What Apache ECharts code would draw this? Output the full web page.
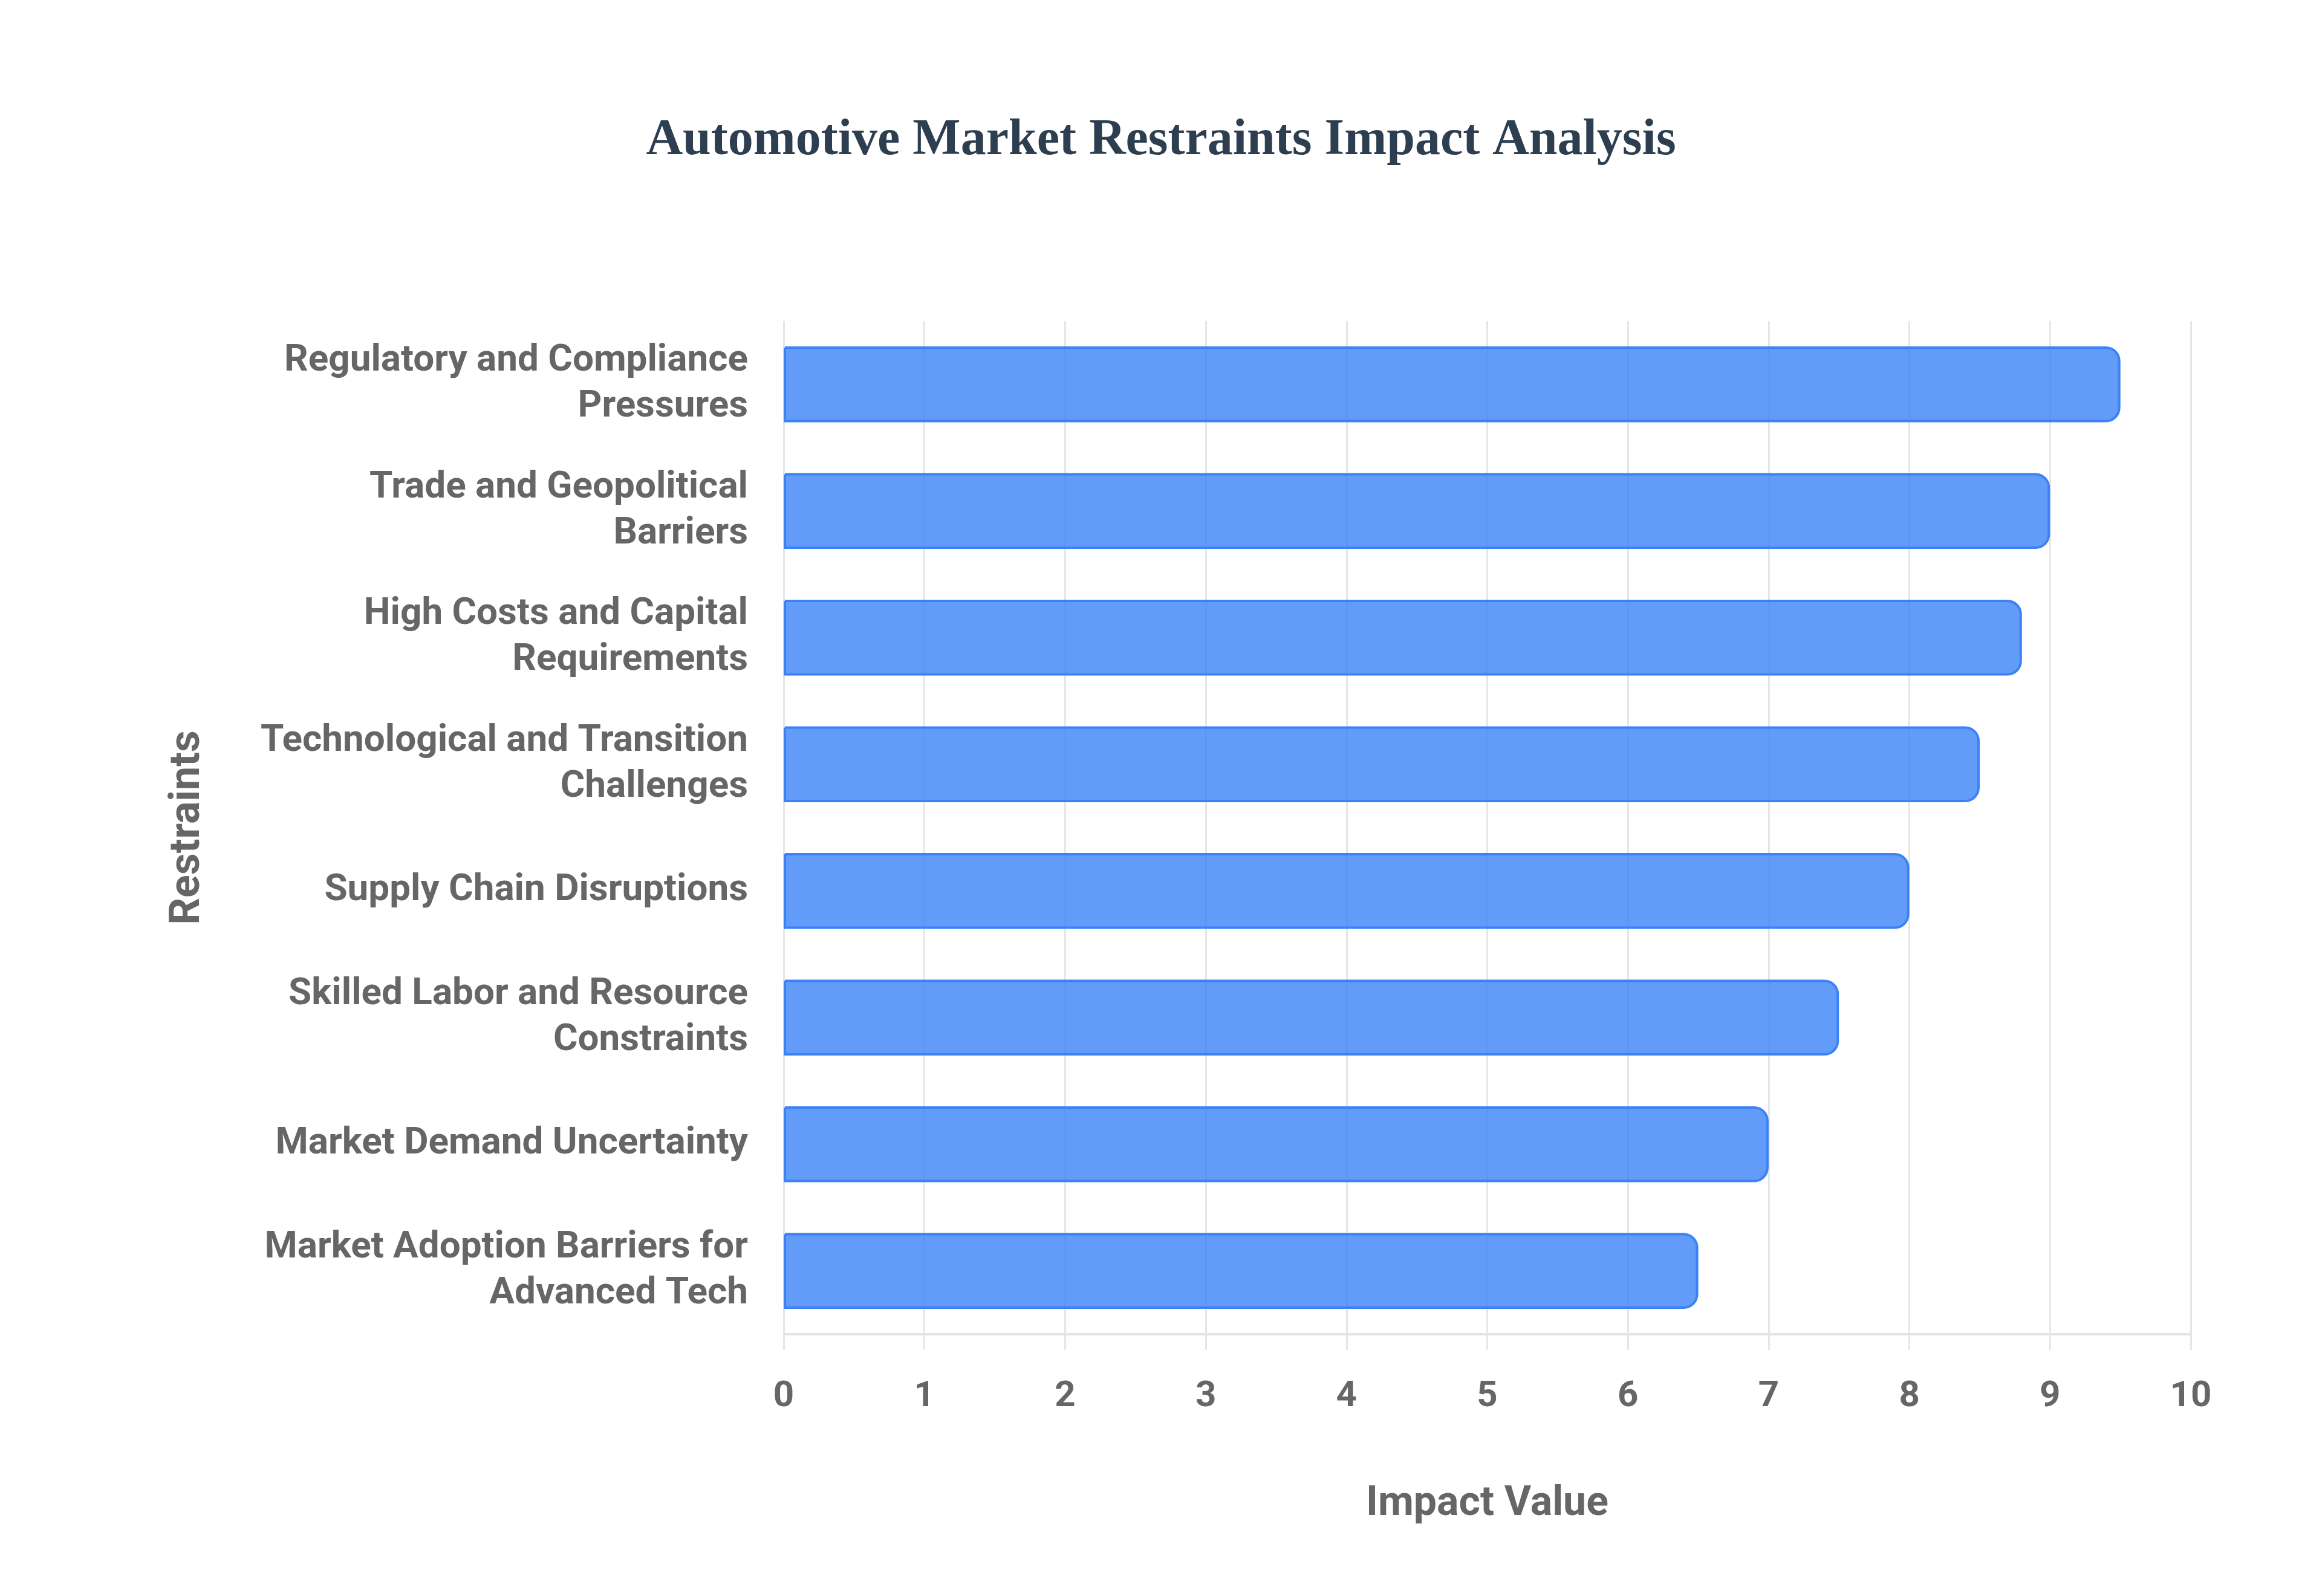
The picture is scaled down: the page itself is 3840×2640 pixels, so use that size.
<!DOCTYPE html>
<html>
<head>
<meta charset="utf-8">
<script src="https://cdn.jsdelivr.net/npm/echarts@6/dist/echarts.min.js"></script>
<style>
html,body{margin:0;padding:0;background:#fff;}
#chart{width:3840px;height:2640px;}
</style>
</head>
<body>
<div id="chart"></div>
<script>
const categories = [
  "Regulatory and Compliance Pressures",
  "Trade and Geopolitical Barriers",
  "High Costs and Capital Requirements",
  "Technological and Transition Challenges",
  "Supply Chain Disruptions",
  "Skilled Labor and Resource Constraints",
  "Market Demand Uncertainty",
  "Market Adoption Barriers for Advanced Tech"
];
const impactValues = [9.5, 9.0, 8.8, 8.5, 8.0, 7.5, 7.0, 6.5];
const xTicks = { min: 0, max: 10, interval: 1 };
const titleText = "Automotive Market Restraints Impact Analysis";
const xAxisName = "Impact Value";
const yAxisName = "Restraints";

function wrap(str, maxChars) {
  const words = str.split(' ');
  const lines = [];
  let cur = '';
  words.forEach(w => {
    const t = cur ? cur + ' ' + w : w;
    if (t.length > maxChars && cur) { lines.push(cur); cur = w; }
    else cur = t;
  });
  if (cur) lines.push(cur);
  return lines.join('\n');
}

const chart = echarts.init(document.getElementById('chart'));
const sans = 'Roboto, "Liberation Sans", Arial, sans-serif';
chart.setOption({
  backgroundColor: '#ffffff',
  animation: false,
  title: {
    text: titleText,
    left: 'center',
    top: 186,
    textStyle: {
      fontFamily: '"Liberation Serif", "Times New Roman", serif',
      fontWeight: 'bold',
      fontSize: 84,
      color: '#2c3e50'
    }
  },
  grid: { left: 1296, right: 217, top: 531, bottom: 433, containLabel: false },
  xAxis: {
    type: 'value',
    min: xTicks.min,
    max: xTicks.max,
    interval: xTicks.interval,
    name: xAxisName,
    nameLocation: 'middle',
    nameGap: 248,
    nameTextStyle: { fontFamily: sans, fontWeight: 'bold', fontSize: 68, color: '#666666' },
    axisLine: { show: true, lineStyle: { color: '#e3e3e3', width: 4 } },
    axisTick: { show: true, length: 26, lineStyle: { color: '#e6e6e6', width: 3 } },
    axisLabel: { margin: 74, fontFamily: sans, fontWeight: 'bold', fontSize: 60, color: '#666666' },
    splitLine: { show: true, lineStyle: { color: '#e6e6e6', width: 3 } }
  },
  yAxis: {
    type: 'category',
    data: categories,
    inverse: true,
    name: yAxisName,
    nameLocation: 'middle',
    nameGap: 950,
    nameRotate: 90,
    nameTextStyle: { fontFamily: sans, fontWeight: 'bold', fontSize: 70, color: '#666666' },
    axisLine: { show: false },
    axisTick: { show: false },
    splitLine: { show: false },
    axisLabel: {
      margin: 59,
      fontFamily: sans,
      fontWeight: 'bold',
      fontSize: 62,
      lineHeight: 76,
      color: '#666666',
      align: 'right',
      formatter: v => wrap(v, 28)
    }
  },
  series: [{
    type: 'bar',
    data: impactValues,
    barWidth: '60%',
    itemStyle: {
      color: 'rgba(59,130,246,0.8)',
      borderColor: '#3b82f6',
      borderWidth: 4,
      borderRadius: [0, 22, 22, 0]
    }
  }]
});
</script>
</body>
</html>
